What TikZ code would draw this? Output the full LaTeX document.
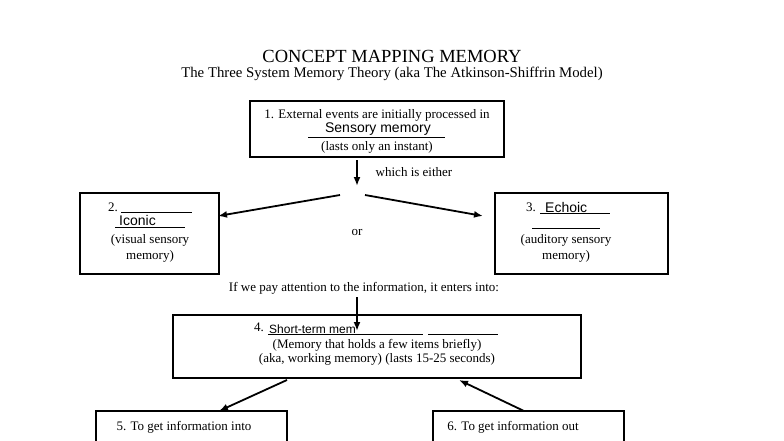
\documentclass[tikz,border=0pt]{standalone}
\usepackage{fontspec}
\setmainfont{Liberation Serif}
\setsansfont{Liberation Sans}
\usetikzlibrary{arrows.meta}
\begin{document}
\begin{tikzpicture}[x=1pt,y=-1pt,
  box/.style={draw,line width=1.8pt},
  arr/.style={-{Latex[length=9pt,width=7pt]},line width=1.8pt},
  txt/.style={font=\fontsize{13}{15}\selectfont,inner sep=0pt},
  sf/.style={font=\sffamily\fontsize{14}{16}\selectfont,inner sep=0pt}]
\useasboundingbox (0,0) rectangle (784,441);
\clip (0,0) rectangle (784,441);
\node[font=\fontsize{18.5}{20}\selectfont,inner sep=0pt] (title) at (392,56) {CONCEPT MAPPING MEMORY};
\node[font=\fontsize{14.8}{17}\selectfont,inner sep=0pt] (sub) at (392,74) {The Three System Memory Theory (aka The Atkinson-Shiffrin Model)};
% box 1
\draw[box] (250,101) rectangle (504,157);
\node[txt] (b1a) at (377,115) {1. External events are initially processed in};
\node[sf] (b1b) at (378,129) {Sensory memory};
\draw[thin] (308,137) -- (445,137);
\node[txt] (b1c) at (377,147) {(lasts only an instant)};
\coordinate (a0) at (357,160); \coordinate (a1) at (357,186);
\draw[arr] (a0) -- (a1);
\node[txt] (either) at (414,172) {which is either};
\coordinate (l0) at (340,195); \coordinate (l1) at (218,216);
\coordinate (r0) at (365,195); \coordinate (r1) at (483,216);
\draw[arr] (l0) -- (l1);
\draw[arr] (r0) -- (r1);
\node[txt] (or) at (357,232) {or};
% box 2
\draw[box] (80,193) rectangle (219,274);
\node[txt] (b2a) at (113,207) {2.};
\draw[thin] (121,212) -- (192,212);
\node[sf,anchor=west] (b2b) at (119,220) {Iconic};
\draw[thin] (115,227) -- (185,227);
\node[txt] (b2c) at (150,240) {(visual sensory};
\node[txt] (b2d) at (150,256) {memory)};
% box 3
\draw[box] (495,193) rectangle (668,274);
\node[txt] (b3a) at (531,207) {3.};
\node[sf,anchor=west] (b3b) at (545,207) {Echoic};
\draw[thin] (540,213) -- (610,213);
\draw[thin] (532,228) -- (600,228);
\node[txt] (b3c) at (566,240) {(auditory sensory};
\node[txt] (b3d) at (566,256) {memory)};
\node[txt] (enter) at (364,288) {If we pay attention to the information, it enters into:};
% box 4
\draw[box] (173,315) rectangle (581,378);
\coordinate (m0) at (357,297); \coordinate (m1) at (357,331);
\node[txt] (b4n) at (259,327) {4.};
\node[sf,anchor=west,font=\sffamily\fontsize{12}{14}\selectfont] (b4a) at (269,329) {Short-term mem};
\draw[thin] (268,334) -- (423,334);
\draw[thin] (428,334) -- (498,334);
\draw[arr] (m0) -- (m1);
\node[txt] (b4b) at (377,345) {(Memory that holds a few items briefly)};
\node[txt] (b4c) at (377,359) {(aka, working memory) (lasts 15-25 seconds)};
% bottom boxes
\draw[box] (96,411) rectangle (287,460);
\draw[box] (433,411) rectangle (624,460);
\node[txt] (b5) at (184,427) {5. To get information into};
\node[txt] (b6) at (513,427) {6. To get information out};
\coordinate (p0) at (287,380); \coordinate (p1) at (219,411);
\coordinate (q0) at (524,411); \coordinate (q1) at (459,380);
\draw[arr] (p0) -- (p1);
\draw[arr] (q0) -- (q1);
\end{tikzpicture}
\end{document}
